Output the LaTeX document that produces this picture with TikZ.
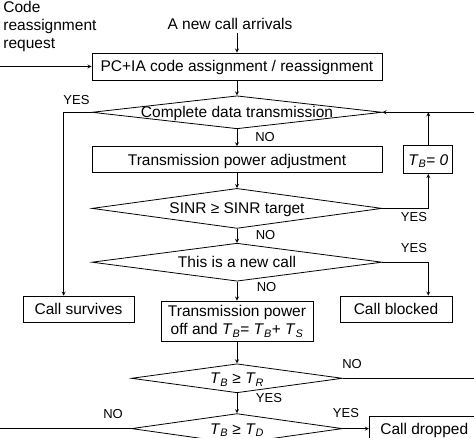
\documentclass[tikz,border=0pt]{standalone}
\usepackage{fontspec}
\setmainfont{Liberation Sans}
\usetikzlibrary{shapes,arrows,positioning}

\newcommand{\tvar}[1]{\textit{T}\textsubscript{\textit{#1}}}
\newcommand{\nowide}[1]{\makebox[0pt]{#1}}

\begin{document}
\begin{tikzpicture}[
    x=1pt, y=-1pt,
    font=\fontsize{15.5}{18.5}\selectfont,
    line width=0.8pt,
    block/.style={rectangle, draw, inner sep=0pt, text height=11pt, text depth=0pt},
    decision/.style={diamond, draw, inner sep=0pt, text height=11pt, text depth=0pt},
    tag/.style={inner sep=0pt, font=\fontsize{13}{15}\selectfont, text height=9.3pt, text depth=0pt},
    arrow/.style={->, >=stealth}
]
    \useasboundingbox (0,0) rectangle (474,438);
    \coordinate (edgeL) at (0,0);
    \coordinate (edgeR) at (474,0);

    \node[anchor=north west, align=left, inner sep=0pt, font=\fontsize{15.5}{18}\selectfont] (request) at (3,0.4) {Code\\reassignment\\request};
    \node (arrive) at (230,24) {A new call arrivals};

    \node[block, minimum width=290pt, minimum height=27pt] (assign) at (237,66.5) {PC+IA code assignment / reassignment};
    \node[decision, minimum width=290pt, minimum height=33pt, below=15pt of assign] (done) {\nowide{Complete data transmission}};
    \node[block, minimum width=290pt, minimum height=26pt, below=17pt of done] (adjust) {Transmission power adjustment};
    \node[decision, minimum width=290pt, minimum height=40pt, below=15pt of adjust] (sinr) {\nowide{SINR ≥ SINR target}};
    \node[decision, minimum width=290pt, minimum height=38pt, below=14pt of sinr] (newcall) {\nowide{This is a new call}};
    \node[block, text height=, text depth=, align=center, minimum width=152pt, minimum height=40pt, below=19pt of newcall] (poweroff) {Transmission power\\off and \tvar{B}= \tvar{B}+ \tvar{S}};
    \node[decision, minimum width=211pt, minimum height=29pt, below=22pt of poweroff] (tr) {\nowide{\tvar{B} ≥ \tvar{R}}};
    \node[decision, minimum width=211pt, minimum height=30pt, below=20pt of tr] (td) {\nowide{\tvar{B} ≥ \tvar{D}}};

    \node[block, minimum width=49pt, minimum height=28pt, right=21pt of adjust] (tbzero) {\tvar{B}= \textit{0}};
    \node[block, minimum width=111pt, minimum height=26pt] (survives) at (78.5,309) {Call survives};
    \node[block, minimum width=112pt, minimum height=26pt] (blocked) at (396,309) {Call blocked};
    \node[block, minimum width=110pt, minimum height=25pt, right=26pt of td] (dropped) {Call dropped};

    \node[tag] (yesdone) at (76.5,100) {YES};
    \node[tag] (nodone) at (265,137) {NO};
    \node[tag] (yessinr) at (414,217) {YES};
    \node[tag] (nosinr) at (265.5,235) {NO};
    \node[tag] (yesnew) at (414,248) {YES};
    \node[tag] (nonew) at (266.5,287) {NO};
    \node[tag] (notr) at (352,364) {NO};
    \node[tag] (yestr) at (269,398) {YES};
    \node[tag] (yestd) at (346,413) {YES};
    \node[tag] (notd) at (113,414) {NO};

    \draw[arrow] (arrive.south -| assign.north) -- (assign.north);
    \draw[arrow] (assign.west -| edgeL) -- (assign.west);
    \draw[arrow] (assign) -- (done);
    \draw[arrow] (done) -- (adjust);
    \draw[arrow] (adjust) -- (sinr);
    \draw[arrow] (sinr) -- (newcall);
    \draw[arrow] (newcall) -- (poweroff);
    \draw[arrow] (poweroff) -- (tr);
    \draw[arrow] (tr) -- (td);

    \draw[arrow] (done.west) -- ++(-28,0) coordinate (bend) -- (bend |- survives.north);
    \draw[arrow] (done.east -| edgeR) -- (done.east);
    \draw[arrow] (sinr.east) -| (tbzero);
    \draw[arrow] (tbzero) -- (tbzero |- done.east);
    \draw[arrow] (newcall.east) -| (blocked.north -| tbzero);
    \draw (tr.east) -- (tr.east -| edgeR);
    \draw (td.west) -- (td.west -| edgeL);
    \draw[arrow] (td) -- (dropped);
\end{tikzpicture}
\end{document}
